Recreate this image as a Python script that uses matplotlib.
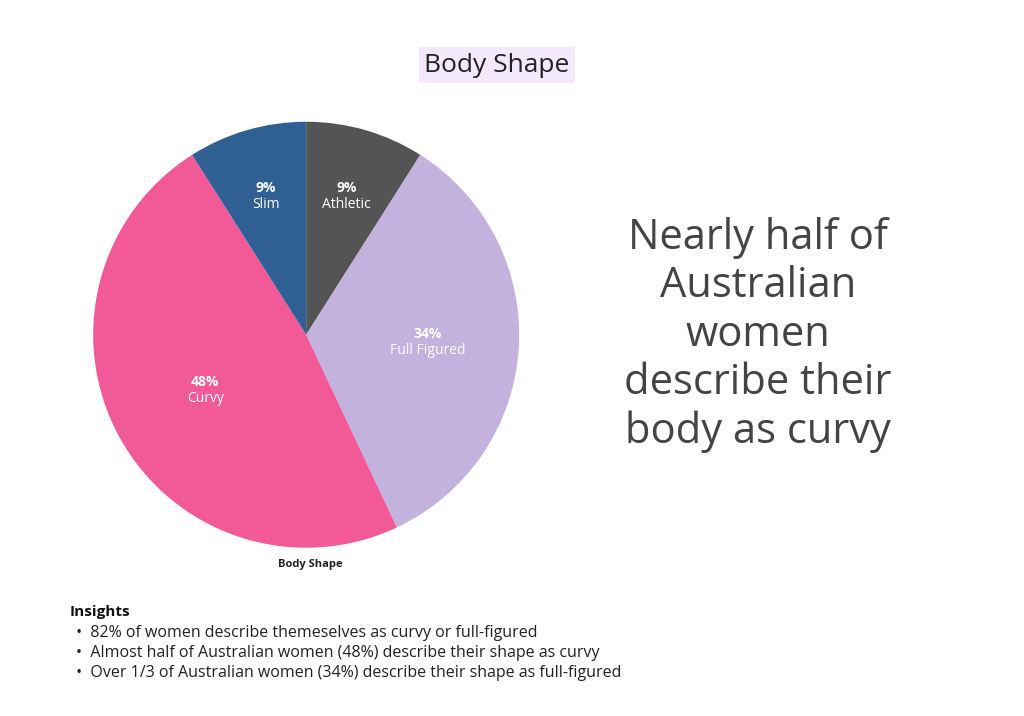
import numpy as np
import matplotlib
matplotlib.use("Agg")
import matplotlib.pyplot as plt

labels = ["Athletic", "Full Figured", "Curvy", "Slim"]
shares = [9, 34, 48, 9]
colors = ["#545454", "#c3b1de", "#f15a96", "#2f5f93"]
label_r = [0.68, 0.57, 0.54, 0.68]

insights = [
    "82% of women describe themeselves as curvy or full-figured",
    "Almost half of Australian women (48%) describe their shape as curvy",
    "Over 1/3 of Australian women (34%) describe their shape as full-figured",
]
headline = "Nearly half of\nAustralian\nwomen\ndescribe their\nbody as curvy"

plt.rcParams["font.family"] = ["Open Sans", "DejaVu Sans"]
fig = plt.figure(figsize=(10.24, 7.16), dpi=100)

ax = fig.add_axes([0.091, 0.235, 0.416, 0.595])
ax.pie(shares, colors=colors, startangle=90, counterclock=False,
       wedgeprops=dict(linewidth=0))
ax.set_xlim(-1, 1)
ax.set_ylim(-1, 1)
ax.set_aspect("equal")

start = 90.0
for lab, val, r in zip(labels, shares, label_r):
    mid = np.deg2rad(start - val * 3.6 / 2)
    start -= val * 3.6
    x, y = r * np.cos(mid), r * np.sin(mid)
    ax.text(x, y + 0.005, f"{val}%", color="white", fontsize=10, fontweight="bold",
            ha="center", va="bottom")
    ax.text(x, y - 0.005, lab, color="white", fontsize=10, ha="center", va="top")

fig.text(0.485, 0.909, "Body Shape", fontsize=19, color="#222", ha="center", va="center",
         bbox=dict(boxstyle="square,pad=0.2", facecolor="#f3e8fc", edgecolor="none"))
fig.text(0.303, 0.212, "Body Shape", fontsize=8, fontweight="bold", color="#222",
         ha="center", va="center")
fig.text(0.740, 0.532, headline, fontsize=30, color="#444", ha="center", va="center",
         linespacing=1.2)

fig.text(0.068, 0.145, "Insights", fontsize=11, fontweight="bold", color="#111", va="center")
for i, line in enumerate(insights):
    fig.text(0.074, 0.116 - i * 0.028, "\u2022  " + line, fontsize=11.5, color="#222",
             va="center")

fig.savefig("out.png", dpi=100, facecolor="white")
